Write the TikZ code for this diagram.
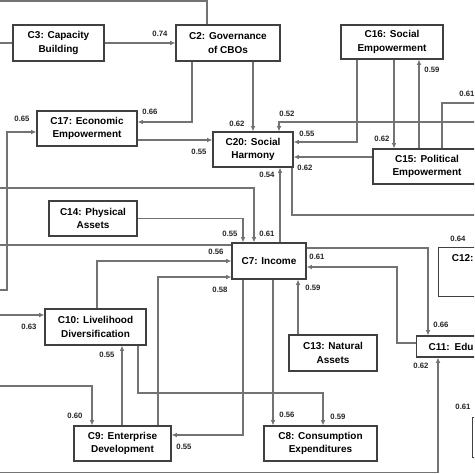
\documentclass[tikz,border=0pt]{standalone}
\usepackage{fontspec}
\setmainfont{Liberation Sans}
\usetikzlibrary{arrows.meta}
\tikzset{
  concept/.style={draw=black!75, fill=white, line width=0.8pt, align=center, inner sep=1pt,
    font=\bfseries\fontsize{7.5}{10}\selectfont},
  boxsize/.style 2 args={minimum width=#1*0.75pt, minimum height=#2*0.75pt},
  link/.style={draw=black!55, line width=0.9pt},
  arr/.style={link, -{Latex[length=4pt,width=3.5pt]}},
  weight/.style={font=\bfseries\fontsize{5.8}{7}\selectfont, inner sep=0pt, text=black!85}
}
\begin{document}
\begin{tikzpicture}[x=0.75pt,y=-0.75pt]
\useasboundingbox (0,0) rectangle (474,474);
\fill[white] (0,0) rectangle (474,474);
\clip (0,0) rectangle (474,474);
\node[concept, boxsize={91}{36}] (c3) at (58.5,43) {C3: Capacity\\Building};
\node[concept, boxsize={104}{36}] (c2) at (228,43) {C2: Governance\\of CBOs};
\node[concept, boxsize={102}{34}] (c16) at (392,42) {C16: Social\\Empowerment};
\node[concept, boxsize={100}{35}] (c17) at (87,128.5) {C17: Economic\\Empowerment};
\node[concept, boxsize={80}{35}] (c20) at (253,149.5) {C20: Social\\Harmony};
\node[concept, boxsize={108}{35}] (c15) at (427,166.5) {C15: Political\\Empowerment};
\node[concept, boxsize={88}{35}] (c14) at (93,218.5) {C14: Physical\\Assets};
\node[concept, boxsize={74}{36}] (c7) at (269,261) {C7: Income};
\node[concept, boxsize={100}{49}, anchor=north west] (c12) at (438,247) {};
\node[concept, draw=none, fill=none, anchor=west] (c12t) at (450,258) {C12:};
\node[concept, boxsize={101}{36}] (c10) at (95.5,327) {C10: Livelihood\\Diversification};
\node[concept, boxsize={88}{36}] (c13) at (333,353) {C13: Natural\\Assets};
\node[concept, anchor=west, minimum height=21*0.75pt, text width=80*0.75pt, align=left,
  inner xsep=12*0.75pt] (c11) at (416,346.5) {C11: Edu};
\node[concept, boxsize={97}{35}] (c9) at (122.5,443.5) {C9: Enterprise\\Development};
\node[concept, boxsize={113}{35}] (c8) at (320.5,443.5) {C8: Consumption\\Expenditures};
\node[concept, boxsize={60}{40}, anchor=north west] (c0) at (472,417) {};

\coordinate (ext1) at (-5,43);
\coordinate (ext2) at (-5,1);
\coordinate (ext3) at (-5,290);
\coordinate (ext4) at (480,122);
\coordinate (ext5) at (480,103);
\coordinate (ext6) at (480,215);
\coordinate (ext7) at (-5,188);
\coordinate (ext8) at (-5,245);
\coordinate (ext9) at (-5,315);
\coordinate (ext10) at (-5,386);
\coordinate (ext11) at (-5,472.5);

\draw[link] (c3.west) -- (ext1);
\draw[arr] (c3) -- (c2);
\draw[link] (c2.north -| 207,0) |- (ext2);
\draw[arr] (c2.south -| 192,0) |- (c17.east |- 0,122);
\draw[arr] (c2.south -| c20.north) -- (c20.north);
\draw[arr] (c17.east |- 0,140) -- (c20.west |- 0,140);
\draw[arr] (ext3) -- (7,290) |- (c17.west |- 0,132);
\draw[arr] (ext4) -| (c20.north -| 279,0);
\draw[arr] (c16.south -| 357,0) |- (c20.east |- 0,142);
\draw[arr] (c16.south -| 394,0) -- (c15.north -| 394,0);
\draw[arr] (c15.north -| 419,0) -- (c16.south -| 419,0);
\draw[link] (c15.north -| 442,0) |- (ext5);
\draw[arr] (c15.west |- 0,157) -- (c20.east |- 0,157);
\draw[arr] (c7.north -| 280,0) -- (c20.south -| 280,0);
\draw[link] (c20.south -| 292,0) |- (ext6);
\draw[arr] (ext7) -| (c7.north -| 254,0);
\draw[arr] (c14.east) -| (c7.north -| 243,0);
\draw[link] (ext8) -- (c7.west |- 0,245);
\draw[arr] (c10.north -| 97,0) |- (c7.west |- 0,261);
\draw[arr] (c9.north -| 158,0) |- (c7.west |- 0,277);
\draw[arr] (c7.east |- 0,248) -| (c11.north -| 428,0);
\draw[arr] (c11.west |- 0,343) -| (397,267) -- (c7.east |- 0,267);
\draw[arr] (c13.north -| 298,0) -- (c7.south -| 298,0);
\draw[arr] (c7.south -| 243,0) |- (c9.east |- 0,435);
\draw[arr] (c7.south -| 273,0) -- (c8.north -| 273,0);
\draw[arr] (c10.south -| 138,0) |- (323,393) -- (c8.north -| 323,0);
\draw[arr] (c9.north -| 122,0) -- (c10.south -| 122,0);
\draw[arr] (ext9) -- (c10.west |- 0,315);
\draw[arr] (ext10) -| (c9.north -| 92,0);
\draw[arr] (ext11) -| (c11.south -| 438,0);

\node[weight] (w1) at (160,34) {0.74};
\node[weight] (w2) at (150,112) {0.66};
\node[weight] (w3) at (237,124) {0.62};
\node[weight] (w4) at (199,152) {0.55};
\node[weight] (w5) at (22,119) {0.65};
\node[weight] (w6) at (287,114) {0.52};
\node[weight] (w7) at (307,134) {0.55};
\node[weight] (w8) at (382,139) {0.62};
\node[weight] (w9) at (432,70) {0.59};
\node[weight] (w10) at (467,94) {0.61};
\node[weight] (w11) at (305,168) {0.62};
\node[weight] (w12) at (267,175) {0.54};
\node[weight] (w13) at (230,234) {0.55};
\node[weight] (w14) at (267,234) {0.61};
\node[weight] (w15) at (216,252) {0.56};
\node[weight] (w16) at (220,290) {0.58};
\node[weight] (w17) at (317,257) {0.61};
\node[weight] (w18) at (313,288) {0.59};
\node[weight] (w19) at (458,239) {0.64};
\node[weight] (w20) at (441,325) {0.66};
\node[weight] (w21) at (29,327) {0.63};
\node[weight] (w22) at (107,355) {0.55};
\node[weight] (w23) at (75,416) {0.60};
\node[weight] (w24) at (184,447) {0.55};
\node[weight] (w25) at (287,415) {0.56};
\node[weight] (w26) at (338,417) {0.59};
\node[weight] (w27) at (421,366) {0.62};
\node[weight] (w28) at (463,407) {0.61};
\end{tikzpicture}
\end{document}
